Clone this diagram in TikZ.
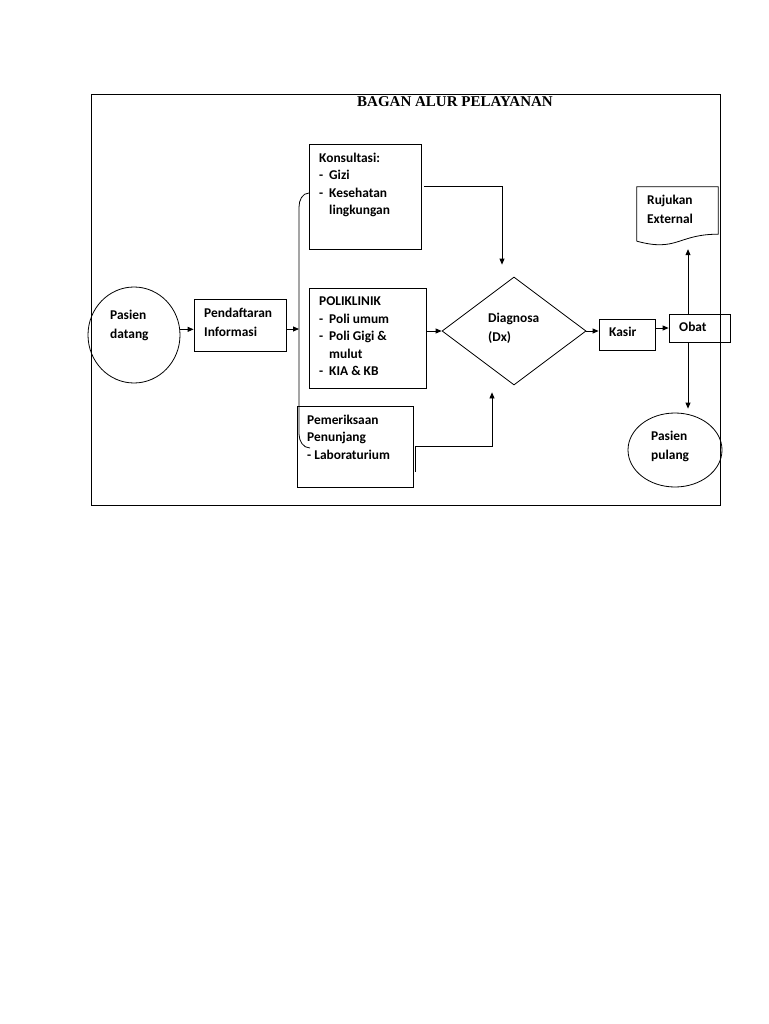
\documentclass[tikz,border=0pt]{standalone}
\usepackage{fontspec}
\setmainfont{Carlito}
\newfontfamily\titlefont{Liberation Serif}
\usetikzlibrary{shapes.geometric,arrows.meta,calc}
\newcommand\dashitem{\makebox[10pt][l]{-}}
\newcommand\dashindent{\hspace*{10pt}}

\begin{document}
\begin{tikzpicture}[x=1pt, y=-1pt,
  every node/.style={font=\bfseries\fontsize{13.4}{17.5}\selectfont},
  box/.style={draw, rectangle, line width=0.8pt, inner sep=0pt},
  oval/.style={draw, ellipse, line width=0.8pt, inner sep=0pt},
  txt/.style={anchor=north west, align=left, inner sep=0pt},
  txtwide/.style={txt, font=\bfseries\fontsize{13.4}{19.5}\selectfont},
  arr/.style={line width=0.8pt, -{Triangle[length=6pt,width=5pt]}}]
  \fill[white] (0,0) rectangle (768,1024);
  \useasboundingbox (0,0) rectangle (768,1024);
  \draw[line width=0.8pt] (91,94) rectangle (720,505);
  \node[font=\titlefont\bfseries\fontsize{15}{18}\selectfont] (title) at (455,102) {BAGAN ALUR PELAYANAN};

  % shapes
  \node[oval, minimum width=92, minimum height=96,
    label={[txtwide, shift={(-24,23)}]north:{Pasien\\datang}}] (pasien) at (134,335) {};
  \node[box, minimum width=92, minimum height=52,
    label={[txtwide, shift={(-36,9)}]north:{Pendaftaran\\Informasi}}] (daftar) at (240,325) {};
  \node[box, minimum width=112, minimum height=105,
    label={[txt, shift={(-46,9)}]north:{Konsultasi:\\\dashitem Gizi\\\dashitem Kesehatan\\\dashindent lingkungan}}] (konsul) at (365,196.5) {};
  \node[box, minimum width=117, minimum height=100,
    label={[txt, shift={(-48.5,9)}]north:{POLIKLINIK\\\dashitem Poli umum\\\dashitem Poli Gigi \&\\\dashindent mulut\\\dashitem KIA \& KB}}] (poli) at (367.5,338) {};
  \node[box, minimum width=116, minimum height=81,
    label={[txt, shift={(-48,9)}]north:{Pemeriksaan\\Penunjang\\- Laboraturium}}] (pem) at (355,446.5) {};
  \node[draw, diamond, line width=0.8pt, inner sep=0pt, minimum width=144, minimum height=108,
    label={[txtwide, shift={(-26,36)}]north:{Diagnosa\\(Dx)}}] (dx) at (514,331) {};
  \node[box, minimum width=56, minimum height=31,
    label={[txt, shift={(-18,8)}]north:Kasir}] (kasir) at (627,334.5) {};
  \node[box, minimum width=61, minimum height=28,
    label={[txt, shift={(-20.5,8)}]north:Obat}] (obat) at (699.5,328) {};
  \node[rectangle, inner sep=0pt, minimum width=81, minimum height=54,
    label={[txtwide, shift={(-30.5,8)}]north:{Rujukan\\External}}] (ruj) at (677.5,214) {};
  \draw[line width=0.8pt] (ruj.south west) -- (ruj.north west) -- (ruj.north east)
    -- ([yshift=7pt]ruj.south east) .. controls ([yshift=7pt]ruj.south) and ([yshift=-11pt]ruj.south) .. (ruj.south west);
  \node[oval, minimum width=94, minimum height=74,
    label={[txtwide, shift={(-24,18)}]north:{Pasien\\pulang}}] (pulang) at (675,450) {};

  % connectors
  \coordinate (trunk) at (299,329);
  \coordinate (ktop) at (309,193);
  \coordinate (kbot) at (310,448);
  \draw[arr] (pasien.7) -- (pasien.7 -| daftar.west);
  \draw[arr] (daftar.east |- trunk) -- (trunk);
  \draw[line width=0.8pt] (ktop) to[out=180, in=90] (trunk |- 0,207) -- (trunk |- 0,434) to[out=-90, in=180] (kbot);
  \draw[arr] ([shift={(3,-10)}]konsul.east) -| ([shift={(-12,-12)}]dx.north);
  \draw[arr] (poli.east |- dx.west) -- (dx.west);
  \draw[arr] ([shift={(2,25)}]pem.east) -- ([xshift=2pt]pem.east) -| ([shift={(-22,7)}]dx.south);
  \draw[arr] (dx.east) -- (dx.east -| kasir.west);
  \draw[arr] (kasir.east |- obat.west) -- (obat.west);
  \coordinate (otop) at ([xshift=-11.5pt]obat.north);
  \coordinate (obot) at ([xshift=-11.5pt]obat.south);
  \draw[arr, shorten >=8pt] (otop) -- (otop |- ruj.south);
  \draw[arr, shorten >=4pt] (obot) -- (obot |- pulang.north);
\end{tikzpicture}
\end{document}
